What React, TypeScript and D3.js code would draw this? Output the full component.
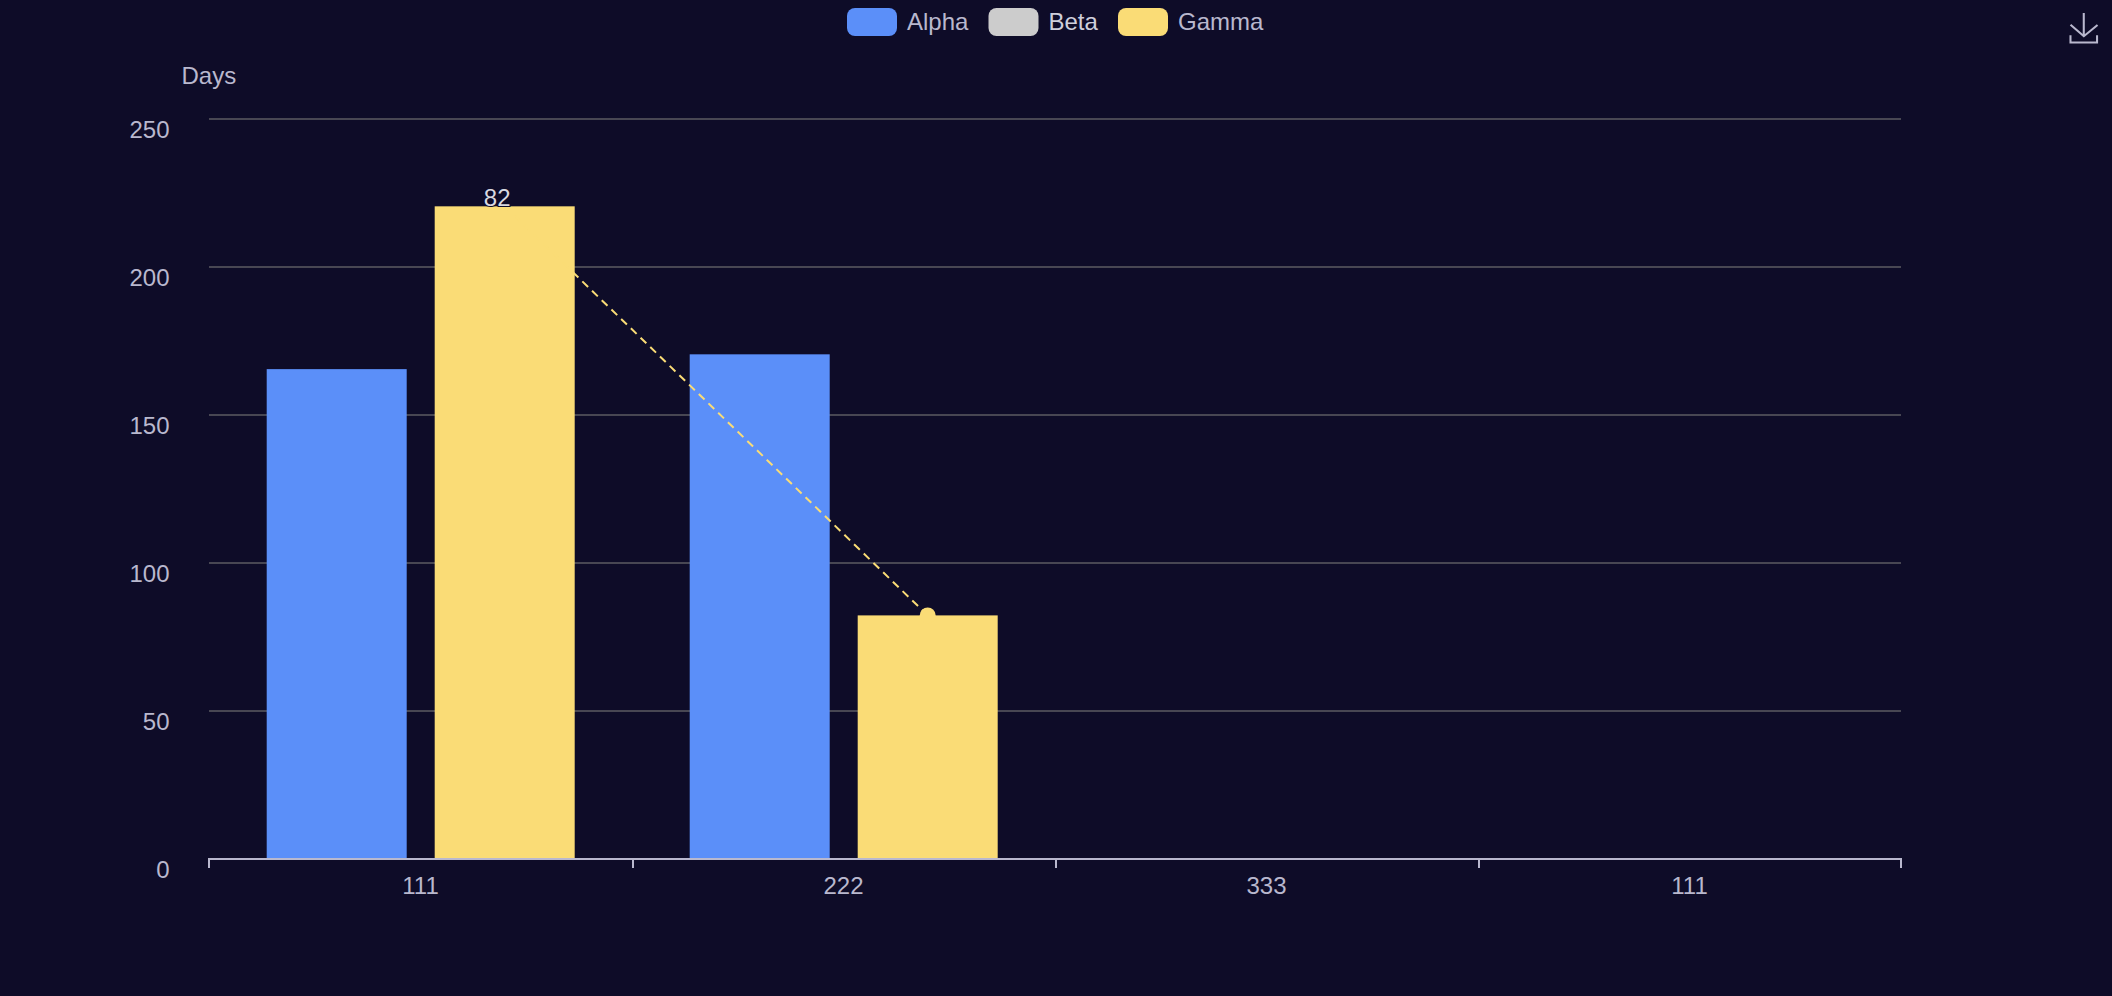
import { useEffect, useRef } from "react";
import { select, scaleBand, scaleLinear, axisBottom, axisLeft, line } from "d3";

const categories = ["111", "222", "333", "111"];
const alphaValues = [165.5, 170.5, null, null];
const betaValues = [null, null, null, null];
const gammaValues = [220.5, 82.3, null, null];
const gammaLineValues = [220.5, 82.3];
const pointLabels = ["82"];
const yTicks = [0, 50, 100, 150, 200, 250];
const legendNames = ["Alpha", "Beta", "Gamma"];
const yAxisName = "Days";

const BG = "#0e0c28";
const TEXT = "#b9b8ce";
const GRID = "#484753";
const COLORS: Record<string, string> = { Alpha: "#5b8ff9", Beta: "#cccccc", Gamma: "#fadc76" };
const FONT = "'Liberation Sans', Arial, sans-serif";

const WIDTH = 2112;
const HEIGHT = 996;
const LEFT = 209;
const RIGHT = 1901;
const TOP = 119;
const BOTTOM = 859;

const App: React.FC = () => {
  const svgRef = useRef<SVGSVGElement>(null);

  useEffect(() => {
    document.body.style.margin = "0";
    document.body.style.background = BG;

    const svg = select(svgRef.current);
    svg.selectAll("*").remove();

    const xScale: any = scaleBand()
      .domain(categories.map((_, i) => String(i)))
      .range([LEFT, RIGHT]);
    const yScale: any = scaleLinear().domain([0, 250]).range([BOTTOM, TOP]);

    // Beta has no values, so only two bars share each band
    const innerScale: any = scaleBand()
      .domain(["Alpha", "Gamma"])
      .range([-153.8, 154.2])
      .paddingInner(1 / 6);

    // horizontal grid
    svg
      .append("g")
      .selectAll("line")
      .data(yTicks.filter((t) => t > 0))
      .join("line")
      .attr("x1", LEFT)
      .attr("x2", RIGHT)
      .attr("y1", (d) => yScale(d))
      .attr("y2", (d) => yScale(d))
      .attr("stroke", GRID)
      .attr("stroke-width", 2);

    // bars
    const bars = [
      { name: "Alpha", values: alphaValues },
      { name: "Beta", values: betaValues },
      { name: "Gamma", values: gammaValues },
    ];
    bars
      .filter((s) => s.name !== "Beta")
      .forEach((s) => {
        svg
          .append("g")
          .selectAll("rect")
          .data(s.values.map((v, i) => ({ v, i })).filter((d) => d.v !== null))
          .join("rect")
          .attr("x", (d) => xScale(String(d.i)) + xScale.bandwidth() / 2 + innerScale(s.name))
          .attr("y", (d) => yScale(d.v))
          .attr("width", innerScale.bandwidth())
          .attr("height", (d) => BOTTOM - yScale(d.v))
          .attr("fill", COLORS[s.name]);
      });

    // dashed gamma line, its points sit in the middle of the gamma bars
    const gammaX = (i: number) =>
      xScale(String(i)) + xScale.bandwidth() / 2 + innerScale("Gamma") + innerScale.bandwidth() / 2;
    const myLine: any = line()
      .x((_, i) => gammaX(i))
      .y((d: any) => yScale(d));
    svg
      .append("path")
      .attr("d", myLine(gammaLineValues))
      .attr("fill", "none")
      .attr("stroke", COLORS.Gamma)
      .attr("stroke-width", 2)
      .attr("stroke-dasharray", "8 5.5");

    // only the last point shows a symbol
    svg
      .append("g")
      .selectAll("circle")
      .data(gammaLineValues.slice(-1))
      .join("circle")
      .attr("cx", gammaX(gammaLineValues.length - 1))
      .attr("cy", (d) => yScale(d))
      .attr("r", 8)
      .attr("fill", COLORS.Gamma);

    svg
      .append("g")
      .selectAll("text")
      .data(pointLabels)
      .join("text")
      .attr("x", (_, i) => gammaX(i) - 7.5)
      .attr("y", (_, i) => yScale(gammaLineValues[i]))
      .attr("text-anchor", "middle")
      .attr("font-family", FONT)
      .attr("font-size", 24)
      .attr("fill", "#d8d8e0")
      .attr("stroke", BG)
      .attr("stroke-width", 2)
      .attr("paint-order", "stroke")
      .text((d) => d);

    // x axis: ticks on the band edges, labels in the band centres
    const xAxis: any = axisBottom(xScale)
      .tickSize(0)
      .tickPadding(0)
      .tickFormat((d: any) => categories[+d]);
    const xGroup: any = svg.append("g").attr("transform", `translate(0,${BOTTOM})`);
    xGroup.call(xAxis);
    xGroup.select(".domain").remove();
    xGroup
      .selectAll("text")
      .attr("dy", null)
      .attr("y", 34.5)
      .attr("font-family", FONT)
      .attr("font-size", 24)
      .attr("fill", TEXT);
    xGroup
      .selectAll(".edge")
      .data([...categories.map((_, i) => xScale(String(i)) + (i > 0 ? 1 : 0)), RIGHT])
      .join("line")
      .attr("class", "edge")
      .attr("x1", (d: number) => d)
      .attr("x2", (d: number) => d)
      .attr("y1", 0)
      .attr("y2", 9)
      .attr("stroke", TEXT)
      .attr("stroke-width", 2);
    xGroup
      .append("line")
      .attr("x1", LEFT - 1)
      .attr("x2", RIGHT + 1)
      .attr("stroke", TEXT)
      .attr("stroke-width", 2);

    // y axis labels only, they sit a little under their grid lines
    const yAxis: any = axisLeft(yScale).tickValues(yTicks).tickSize(0).tickPadding(0);
    const yGroup: any = svg.append("g").attr("transform", "translate(169.5,0)");
    yGroup.call(yAxis);
    yGroup.select(".domain").remove();
    yGroup
      .selectAll("text")
      .attr("dy", null)
      .attr("x", 0)
      .attr("y", 18)
      .attr("text-anchor", "end")
      .attr("font-family", FONT)
      .attr("font-size", 24)
      .attr("fill", TEXT);

    svg
      .append("text")
      .attr("x", 181.5)
      .attr("y", 84)
      .attr("font-family", FONT)
      .attr("font-size", 24)
      .attr("fill", TEXT)
      .text(yAxisName);

    // legend
    const legendX = [847, 988.5, 1118];
    const legend = svg
      .append("g")
      .selectAll("g")
      .data(legendNames)
      .join("g")
      .attr("transform", (_, i) => `translate(${legendX[i]},8)`);
    legend
      .append("rect")
      .attr("width", 50)
      .attr("height", 28)
      .attr("rx", 8)
      .attr("fill", (d) => COLORS[d]);
    legend
      .append("text")
      .attr("x", 60)
      .attr("y", 22)
      .attr("font-family", FONT)
      .attr("font-size", 24)
      .attr("fill", (d) => (d === "Beta" ? "#cfcfdc" : TEXT))
      .text((d) => d);

    // save-as-image icon
    svg
      .append("path")
      .attr("transform", "translate(2068,13) scale(0.54,0.51)")
      .attr("d", "M4.7,22.9L29.3,45.5L54.7,23.4M4.6,43.6L4.6,58L53.8,58L53.8,43.6M29.2,45.1L29.2,0")
      .attr("fill", "none")
      .attr("stroke", TEXT)
      .attr("stroke-width", 3.8);
  }, []);

  return (
    <svg
      ref={svgRef}
      width={WIDTH}
      height={HEIGHT}
      style={{ position: "absolute", left: 0, top: 0, display: "block", background: BG }}
    />
  );
};

export default App;
